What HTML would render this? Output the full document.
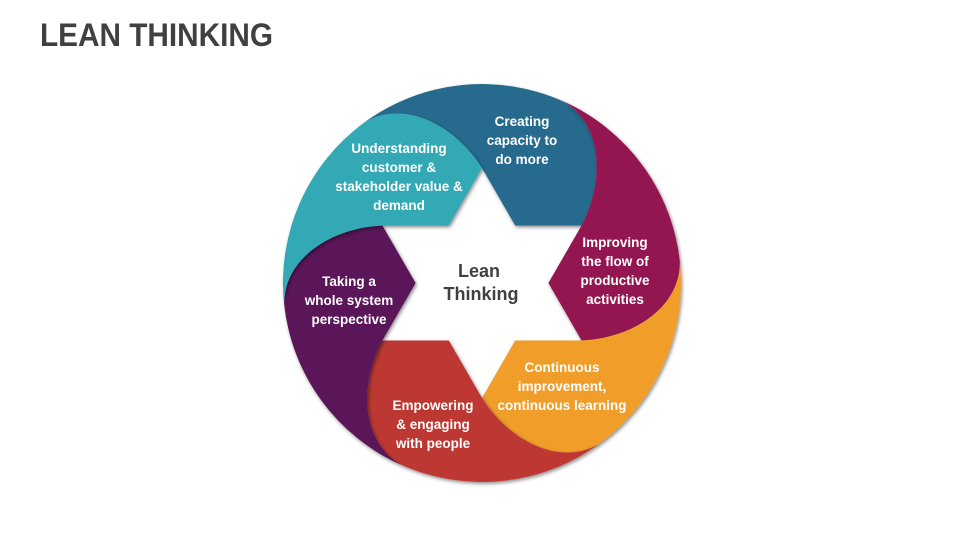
<!DOCTYPE html>
<html>
<head>
<meta charset="utf-8">
<style>
  html,body{margin:0;padding:0;background:#ffffff;}
  svg{display:block;}
</style>
</head>
<body>
<svg width="960" height="540" viewBox="0 0 960 540" xmlns="http://www.w3.org/2000/svg">
  <defs>
    <filter id="sh" x="-20%" y="-20%" width="140%" height="140%">
      <feDropShadow dx="1.2" dy="1.8" stdDeviation="1.8" flood-color="#000" flood-opacity="0.45"/>
    </filter>
  </defs>
  <rect width="960" height="540" fill="#ffffff"/>

  <text x="40" y="46" font-family="'Liberation Sans', sans-serif" font-weight="bold" font-size="32" fill="#404040" textLength="233" lengthAdjust="spacingAndGlyphs">LEAN THINKING</text>

  <g transform="translate(482,283)">
    <g filter="url(#sh)">
      <path fill="#266A8E" d="M0,-115 L33.2,-57.5 L99.6,-57.5 C122,-100 122,-158 80.9,-181.8 A199,199 0 0 0 -117,-161 C-75.8,-184.7 -25.6,-155.7 0,-115 Z"/>
    </g>
    <g filter="url(#sh)">
      <path fill="#931651" transform="rotate(60)" d="M0,-115 L33.2,-57.5 L99.6,-57.5 C122,-100 122,-158 80.9,-181.8 A199,199 0 0 0 -117,-161 C-75.8,-184.7 -25.6,-155.7 0,-115 Z"/>
    </g>
    <g filter="url(#sh)">
      <path fill="#F09D2B" transform="rotate(120)" d="M0,-115 L33.2,-57.5 L99.6,-57.5 C122,-100 122,-158 80.9,-181.8 A199,199 0 0 0 -117,-161 C-75.8,-184.7 -25.6,-155.7 0,-115 Z"/>
    </g>
    <g filter="url(#sh)">
      <path fill="#BD3931" transform="rotate(180)" d="M0,-115 L33.2,-57.5 L99.6,-57.5 C122,-100 122,-158 80.9,-181.8 A199,199 0 0 0 -117,-161 C-75.8,-184.7 -25.6,-155.7 0,-115 Z"/>
    </g>
    <g filter="url(#sh)">
      <path fill="#5A1858" transform="rotate(240)" d="M0,-115 L33.2,-57.5 L99.6,-57.5 C122,-100 122,-158 80.9,-181.8 A199,199 0 0 0 -117,-161 C-75.8,-184.7 -25.6,-155.7 0,-115 Z"/>
    </g>
    <g filter="url(#sh)">
      <path fill="#30A9B5" transform="rotate(300)" d="M0,-115 L33.2,-57.5 L99.6,-57.5 C122,-100 122,-158 80.9,-181.8 A199,199 0 0 0 -117,-161 C-75.8,-184.7 -25.6,-155.7 0,-115 Z"/>
    </g>
  </g>

  <g font-family="'Liberation Sans', sans-serif" font-weight="bold" font-size="13.5" fill="#ffffff" text-anchor="middle">
    <text x="522" y="126">Creating</text>
    <text x="522" y="145">capacity to</text>
    <text x="522" y="164">do more</text>

    <text x="399" y="153">Understanding</text>
    <text x="399" y="172">customer &amp;</text>
    <text x="399" y="191">stakeholder value &amp;</text>
    <text x="399" y="210">demand</text>

    <text x="615" y="247">Improving</text>
    <text x="615" y="266">the flow of</text>
    <text x="615" y="285">productive</text>
    <text x="615" y="304">activities</text>

    <text x="562" y="372">Continuous</text>
    <text x="562" y="391">improvement,</text>
    <text x="562" y="410">continuous learning</text>

    <text x="433" y="410">Empowering</text>
    <text x="433" y="429">&amp; engaging</text>
    <text x="433" y="448">with people</text>

    <text x="349" y="286">Taking a</text>
    <text x="349" y="305">whole system</text>
    <text x="349" y="324">perspective</text>
  </g>

  <g font-family="'Liberation Sans', sans-serif" font-weight="bold" font-size="18" fill="#404040" text-anchor="middle">
    <text x="479" y="277">Lean</text>
    <text x="481" y="300">Thinking</text>
  </g>
</svg>
</body>
</html>
